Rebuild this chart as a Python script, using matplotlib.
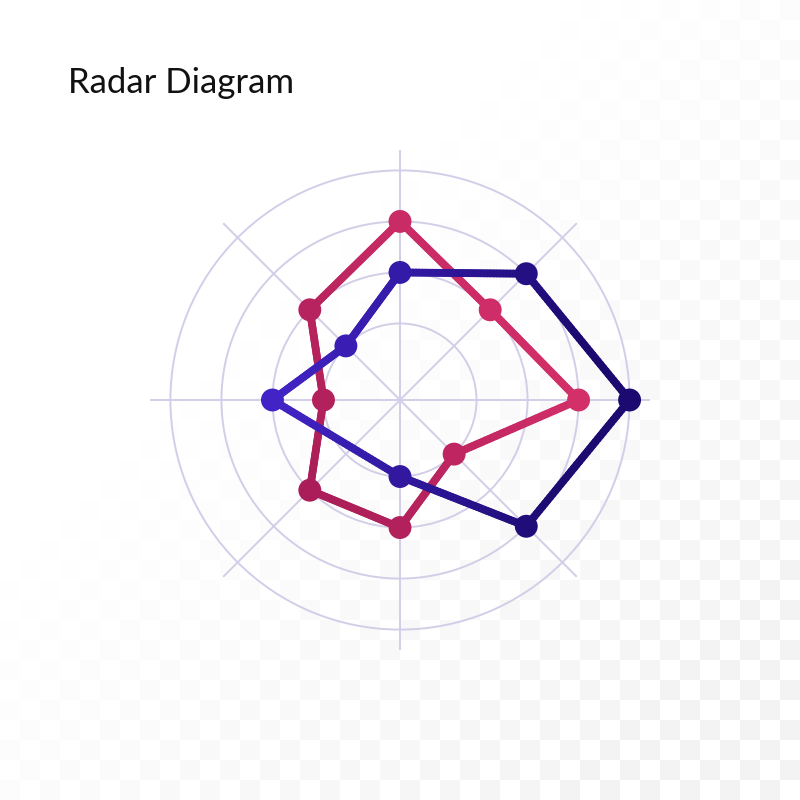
import numpy as np
import matplotlib
matplotlib.use("Agg")
import matplotlib.pyplot as plt
from matplotlib.collections import LineCollection
from matplotlib.colors import to_rgb

# angles of the 8 spokes (degrees, counter-clockwise from east)
angulos_rosa = [90, 45, 0, 315, 270, 225, 180, 135]
valores_rosa = [7, 5, 7, 3, 5, 5, 3, 5]

# the blue series has no point on the south-west spoke
angulos_azul = [90, 45, 0, 315, 270, 180, 135]
valores_azul = [5, 7, 9, 7, 3, 5, 3]

anillos = [3, 5, 7, 9]
radio_max = 9.8

color_grilla = "#d2cee8"


def gradiente(c1, c2, t):
    a = np.array(to_rgb(c1))
    b = np.array(to_rgb(c2))
    return a + (b - a) * np.clip(t, 0, 1)[:, None]


def serie(ax, angulos, valores, c_claro, c_oscuro, direccion):
    th = np.deg2rad(np.array(angulos + angulos[:1], dtype=float))
    r = np.array(valores + valores[:1], dtype=float)
    x, y = r * np.cos(th), r * np.sin(th)
    # subdividir cada lado en linea recta para poder pintar el degradado
    xs, ys = [], []
    for i in range(len(x) - 1):
        s = np.linspace(0, 1, 40)
        xs.append(x[i] + (x[i + 1] - x[i]) * s)
        ys.append(y[i] + (y[i + 1] - y[i]) * s)
    xs = np.concatenate(xs)
    ys = np.concatenate(ys)
    dx, dy = direccion
    proy = (xs * dx + ys * dy) / radio_max
    t = (proy + 0.7) / 1.4
    pts = np.column_stack([np.arctan2(ys, xs), np.hypot(xs, ys)])
    segs = np.stack([pts[:-1], pts[1:]], axis=1)
    cols = gradiente(c_claro, c_oscuro, (t[:-1] + t[1:]) / 2)
    lc = LineCollection(segs, colors=cols, linewidths=5.6, capstyle="round",
                        joinstyle="round", zorder=3)
    ax.add_collection(lc)
    tm = ((x[:-1] * dx + y[:-1] * dy) / radio_max + 0.7) / 1.4
    cm = gradiente(c_claro, c_oscuro, tm)
    ax.scatter(th[:-1], r[:-1], s=16.5 ** 2, c=cm, zorder=4, clip_on=False,
               edgecolors="none")


fig = plt.figure(figsize=(8, 8), dpi=100)
fig.patch.set_facecolor("white")

# fondo de cuadros (transparencia) que se desvanece hacia arriba a la izquierda
bg = fig.add_axes([0, 0, 1, 1])
n = 40
ii, jj = np.meshgrid(np.arange(n), np.arange(n))
peso = np.clip(((ii + jj) / (2 * n) - 0.3) / 0.55, 0, 1)
cuadros = ((ii + jj) % 2 == 1)
gris = 1 - 0.045 * peso * cuadros
bg.imshow(gris, cmap="gray", vmin=0, vmax=1, extent=[0, 1, 0, 1],
          interpolation="nearest", aspect="auto")
bg.axis("off")

ax = fig.add_axes([0.1875, 0.1875, 0.625, 0.625], projection="polar")
ax.set_facecolor("none")
ax.set_ylim(0, radio_max)
ax.set_rgrids(anillos, labels=[""] * len(anillos))
ax.set_thetagrids(np.arange(0, 360, 45), labels=[""] * 8)
ax.grid(True, color=color_grilla, linewidth=1.4)
ax.spines["polar"].set_visible(False)
ax.tick_params(length=0)

serie(ax, angulos_rosa, valores_rosa, "#d6306a", "#a21a55", (-0.85, -0.5))
serie(ax, angulos_azul, valores_azul, "#4828d4", "#1c0a70", (1.0, -0.15))

fig.text(0.085, 0.884, "Radar Diagram", fontsize=25, family=["Lato", "DejaVu Sans"],
         color="#111111", va="baseline", ha="left")

fig.savefig("out.png", dpi=100)
